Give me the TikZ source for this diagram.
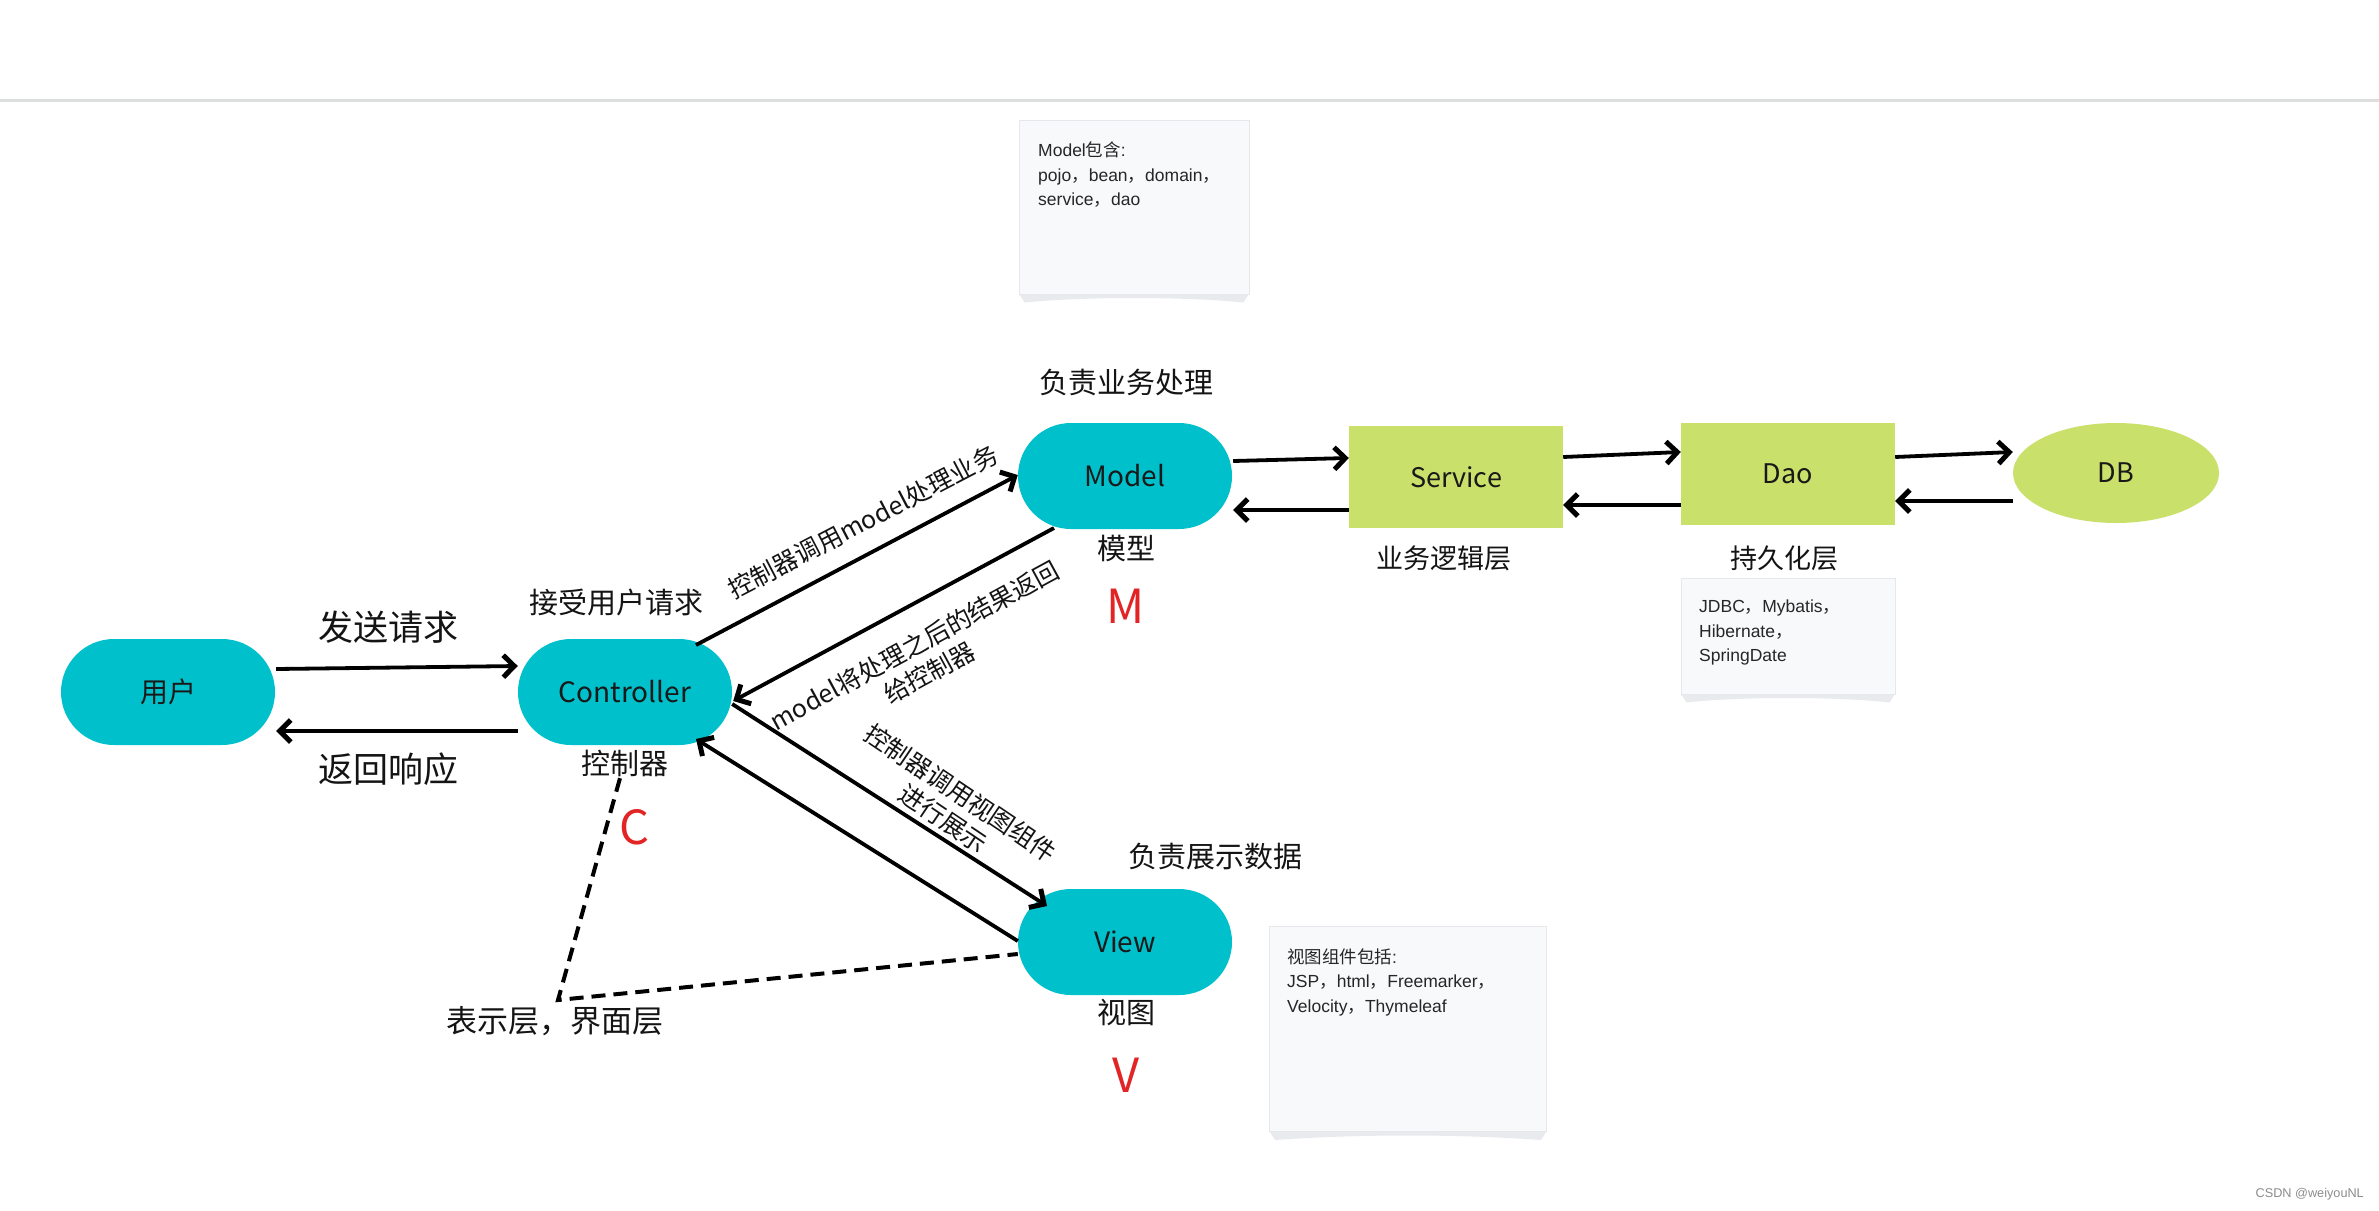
\documentclass[tikz,border=0pt]{standalone}
\usepackage{fontspec}
\setmainfont{Noto Sans CJK SC}
\newfontfamily\cjk{Noto Sans CJK SC}
\newfontfamily\lib{Liberation Sans}
\usetikzlibrary{arrows.meta,calc,shapes.geometric}
\definecolor{mvcteal}{RGB}{0,193,203}
\definecolor{mvcgreen}{RGB}{201,224,106}
\definecolor{mvcred}{RGB}{226,36,36}
\definecolor{notefill}{RGB}{248,249,251}
\definecolor{noteline}{RGB}{230,232,235}
\definecolor{noteshadow}{RGB}{232,234,237}
\definecolor{topline}{RGB}{221,223,223}
\begin{document}
\begin{tikzpicture}[x=1pt,y=-1pt,
  stadium/.style={fill=mvcteal, rounded corners=53pt, minimum width=214pt, minimum height=106pt, inner sep=0pt, text=black!90, font=\fontsize{28}{34}\selectfont},
  layerbox/.style={fill=mvcgreen, minimum width=214pt, minimum height=102pt, inner sep=0pt, text=black!90, font=\fontsize{27}{32}\selectfont},
  arr/.style={line width=3.8pt, -{Straight Barb[length=11pt,width=22pt,line width=5pt]}},
  dashline/.style={line width=4pt, dash pattern=on 14pt off 8pt},
  lab/.style={inner sep=0pt, text=black!92, font=\fontsize{29}{34}\selectfont},
  biglab/.style={inner sep=0pt, text=black!92, font=\fontsize{35}{40}\selectfont},
  letter/.style={inner sep=0pt, text=mvcred, font=\fontsize{47}{50}\selectfont},
  rotlab/.style={inner sep=0pt, text=black!92, align=center, font=\fontsize{25}{31}\selectfont},
  notebox/.style={fill=notefill, draw=noteline, line width=1pt, inner sep=0pt},
  notetext/.style={inner sep=0pt, anchor=north west, align=left, text=black!85, font=\fontsize{17.5}{24.5}\selectfont}
]
\useasboundingbox (0,0) rectangle (2379,1210);
\fill[white] (0,0) rectangle (2379,1210);
\draw[topline, line width=3pt] (0,100) -- (2379,100);

% notes
\node[notebox, minimum width=230pt, minimum height=174pt] (mnote) at (1134,207) {};
\node[notebox, minimum width=214pt, minimum height=116pt] (dnote) at (1788,636) {};
\node[notebox, minimum width=277pt, minimum height=205pt] (vnote) at (1408,1029) {};
\foreach \n in {mnote,dnote,vnote}{
  \fill[noteshadow] ($(\n.south west)+(1,0)$) -- ($(\n.south west)+(6,8)$)
    .. controls ($(\n.south)+(-50,2)$) and ($(\n.south)+(50,2)$) .. ($(\n.south east)+(-6,8)$)
    -- ($(\n.south east)+(-1,0)$) -- cycle;
}
\node[notetext] (mnotetxt) at (1038,142) {{\lib Model}包含{\lib :}\\{\lib pojo}，{\lib bean}，{\lib domain}，\\{\lib service}，{\lib dao}};
\node[notetext] (dnotetxt) at (1699,600) {{\lib JDBC}，{\lib Mybatis}，\\{\lib Hibernate}，\\{\lib SpringDate}};
\node[notetext] (vnotetxt) at (1287,948) {视图组件包括{\lib :}\\{\lib JSP}，{\lib html}，{\lib Freemarker}，\\{\lib Velocity}，{\lib Thymeleaf}};

% main nodes
\node[stadium] (user) at (168,692) {用户};
\node[stadium] (ctrl) at (625,692) {Controller};
\node[stadium] (model) at (1125,476) {Model};
\node[stadium] (view) at (1125,942) {View};
\node[layerbox] (service) at (1456,477) {Service};
\node[layerbox] (dao) at (1788,474) {Dao};
\node[ellipse, fill=mvcgreen, minimum width=206pt, minimum height=100pt, inner sep=0pt, text=black!90, font=\fontsize{27}{32}\selectfont] (db) at (2116,473) {DB};

% arrows
\draw[arr] ($(user.east)+(1,-23)$) -- ($(ctrl.west)+(0,-26)$);
\draw[arr] ($(ctrl.west)+(0,39)$) -- ($(user.east)+(1,39)$);
\draw[arr] ($(ctrl.center)+(71,-47)$) -- ($(model.west)+(0,-1)$);
\draw[arr] ($(model.center)+(-71,52)$) -- ($(ctrl.east)+(1,9)$);
\draw[arr] ($(ctrl.east)+(0,12)$) -- ($(view.center)+(-78,-36)$);
\draw[arr] ($(view.west)+(0,-1)$) -- ($(ctrl.center)+(71,47)$);
\draw[arr] ($(model.east)+(1,-15)$) -- ($(service.west)+(0,-19)$);
\draw[arr] ($(service.west)+(0,33)$) -- ($(model.east)+(1,34)$);
\draw[arr] ($(service.east)+(0,-20)$) -- ($(dao.west)+(0,-22)$);
\draw[arr] ($(dao.west)+(0,31)$) -- ($(service.east)+(0,28)$);
\draw[arr] ($(dao.east)+(0,-17)$) -- ($(db.west)+(0,-21)$);
\draw[arr] ($(db.west)+(0,28)$) -- ($(dao.east)+(0,27)$);

% dashed presentation layer
\coordinate (corner) at (558,1000);
\draw[dashline] ($(ctrl.south)+(-5,33)$) -- (corner) -- ($(view.west)+(0,12)$);

% labels
\node[lab] (l1) at (1126,382) {负责业务处理};
\node[lab] (l2) at (1126,548) {模型};
\node[letter] (lm) at (1126,606) {M};
\node[lab, font=\fontsize{27}{32}\selectfont] (l3) at (1444,558) {业务逻辑层};
\node[lab, font=\fontsize{27}{32}\selectfont] (l4) at (1784,558) {持久化层};
\node[lab] (l5) at (616,602) {接受用户请求};
\node[biglab] (l6) at (388,627) {发送请求};
\node[biglab] (l7) at (388,769) {返回响应};
\node[lab] (l8) at (625,763) {控制器};
\node[letter] (lc) at (634,827) {C};
\node[lab] (l9) at (1215,856) {负责展示数据};
\node[lab] (l10) at (1126,1013) {视图};
\node[letter] (lv) at (1126,1075) {V};
\node[lab, font=\fontsize{31}{36}\selectfont] (l11) at (555,1021) {表示层，界面层};

\node[rotlab, rotate=27.5] (r1) at (863,522) {控制器调用model处理业务};
\node[rotlab, rotate=28.5] (r2) at (922,659) {model将处理之后的结果返回\\给控制器};
\node[rotlab, rotate=-34] (r3) at (952,806) {控制器调用视图组件\\进行展示};

\node[inner sep=0pt, anchor=east, text=black!45, font=\lib\fontsize{12.7}{15}\selectfont] (wm) at (2364,1194) {CSDN @weiyouNL};
\end{tikzpicture}
\end{document}
